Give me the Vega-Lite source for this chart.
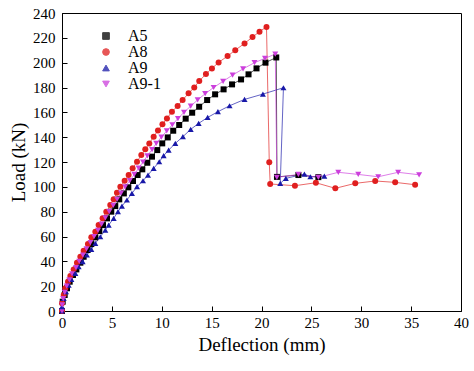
{
  "$schema": "https://vega.github.io/schema/vega-lite/v6.json",
  "width": 399,
  "height": 298,
  "autosize": {"type": "none"},
  "padding": {"left": 62, "top": 13, "right": 13, "bottom": 60},
  "background": "white",
  "config": {
    "view": {"stroke": "black", "strokeWidth": 1},
    "font": "Liberation Serif",
    "axis": {
      "labelFont": "Liberation Serif", "titleFont": "Liberation Serif",
      "labelColor": "black", "titleColor": "black", "domainColor": "black", "tickColor": "black",
      "grid": false, "titleFontWeight": "normal", "labelFontSize": 15, "titleFontSize": 19,
      "tickSize": -5, "labelFlush": false, "labelOverlap": false
    }
  },
  "data": {"values": [
    {"series":"A5","i":0,"deflection":0,"load":0},
    {"series":"A5","i":1,"deflection":0.07,"load":7.5},
    {"series":"A5","i":2,"deflection":0.27,"load":12.9},
    {"series":"A5","i":3,"deflection":0.5,"load":18.3},
    {"series":"A5","i":4,"deflection":0.77,"load":23.6},
    {"series":"A5","i":5,"deflection":1.1,"load":29},
    {"series":"A5","i":6,"deflection":1.44,"load":33.5},
    {"series":"A5","i":7,"deflection":1.84,"load":38.9},
    {"series":"A5","i":8,"deflection":2.17,"load":43.7},
    {"series":"A5","i":9,"deflection":2.57,"load":49.1},
    {"series":"A5","i":10,"deflection":2.94,"load":53.9},
    {"series":"A5","i":11,"deflection":3.34,"load":59.3},
    {"series":"A5","i":12,"deflection":3.74,"load":64.4},
    {"series":"A5","i":13,"deflection":4.11,"load":69.2},
    {"series":"A5","i":14,"deflection":4.51,"load":74.6},
    {"series":"A5","i":15,"deflection":4.94,"load":80},
    {"series":"A5","i":16,"deflection":5.34,"load":84.5},
    {"series":"A5","i":17,"deflection":5.74,"load":89.9},
    {"series":"A5","i":18,"deflection":6.2,"load":94.7},
    {"series":"A5","i":19,"deflection":6.65,"load":99.6},
    {"series":"A5","i":20,"deflection":7.12,"load":104.7},
    {"series":"A5","i":21,"deflection":7.58,"load":109.5},
    {"series":"A5","i":22,"deflection":8.05,"load":114.1},
    {"series":"A5","i":23,"deflection":8.55,"load":119.4},
    {"series":"A5","i":24,"deflection":9.02,"load":124.3},
    {"series":"A5","i":25,"deflection":9.55,"load":129.6},
    {"series":"A5","i":26,"deflection":10.05,"load":135},
    {"series":"A5","i":27,"deflection":10.6,"load":139.8},
    {"series":"A5","i":28,"deflection":11.15,"load":145.2},
    {"series":"A5","i":29,"deflection":11.75,"load":149.8},
    {"series":"A5","i":30,"deflection":12.4,"load":154.9},
    {"series":"A5","i":31,"deflection":13.05,"load":159.7},
    {"series":"A5","i":32,"deflection":13.75,"load":164.5},
    {"series":"A5","i":33,"deflection":14.55,"load":169.9},
    {"series":"A5","i":34,"deflection":15.35,"load":174.5},
    {"series":"A5","i":35,"deflection":16.2,"load":178.5},
    {"series":"A5","i":36,"deflection":17.05,"load":182.5},
    {"series":"A5","i":37,"deflection":17.95,"load":186.5},
    {"series":"A5","i":38,"deflection":18.7,"load":190.6},
    {"series":"A5","i":39,"deflection":19.5,"load":195.4},
    {"series":"A5","i":40,"deflection":20.4,"load":200},
    {"series":"A5","i":41,"deflection":21.48,"load":204.2},
    {"series":"A5","i":42,"deflection":21.55,"load":108},
    {"series":"A5","i":43,"deflection":23.7,"load":109.5},
    {"series":"A5","i":44,"deflection":25.7,"load":107.8},
    {"series":"A8","i":0,"deflection":0,"load":0},
    {"series":"A8","i":1,"deflection":0,"load":6.2},
    {"series":"A8","i":2,"deflection":0.17,"load":12.9},
    {"series":"A8","i":3,"deflection":0.33,"load":18.3},
    {"series":"A8","i":4,"deflection":0.6,"load":23.6},
    {"series":"A8","i":5,"deflection":0.84,"load":28.2},
    {"series":"A8","i":6,"deflection":1.17,"load":33.5},
    {"series":"A8","i":7,"deflection":1.5,"load":38.9},
    {"series":"A8","i":8,"deflection":1.84,"load":43.7},
    {"series":"A8","i":9,"deflection":2.17,"load":48.6},
    {"series":"A8","i":10,"deflection":2.6,"load":53.9},
    {"series":"A8","i":11,"deflection":2.94,"load":59.3},
    {"series":"A8","i":12,"deflection":3.34,"load":63.9},
    {"series":"A8","i":13,"deflection":3.67,"load":69.2},
    {"series":"A8","i":14,"deflection":4.07,"load":74.6},
    {"series":"A8","i":15,"deflection":4.44,"load":80},
    {"series":"A8","i":16,"deflection":4.84,"load":85.3},
    {"series":"A8","i":17,"deflection":5.18,"load":89.9},
    {"series":"A8","i":18,"deflection":5.51,"load":95.3},
    {"series":"A8","i":19,"deflection":5.85,"load":100.1},
    {"series":"A8","i":20,"deflection":6.28,"load":104.9},
    {"series":"A8","i":21,"deflection":6.68,"load":109.5},
    {"series":"A8","i":22,"deflection":7.08,"load":114.9},
    {"series":"A8","i":23,"deflection":7.52,"load":120.2},
    {"series":"A8","i":24,"deflection":7.95,"load":125.6},
    {"series":"A8","i":25,"deflection":8.35,"load":130.2},
    {"series":"A8","i":26,"deflection":8.75,"load":135},
    {"series":"A8","i":27,"deflection":9.19,"load":140.4},
    {"series":"A8","i":28,"deflection":9.62,"load":145.4},
    {"series":"A8","i":29,"deflection":10.07,"load":150.4},
    {"series":"A8","i":30,"deflection":10.52,"load":155.1},
    {"series":"A8","i":31,"deflection":11.02,"load":160.5},
    {"series":"A8","i":32,"deflection":11.59,"load":165.1},
    {"series":"A8","i":33,"deflection":12.09,"load":169.9},
    {"series":"A8","i":34,"deflection":12.69,"load":175.3},
    {"series":"A8","i":35,"deflection":13.26,"load":180.1},
    {"series":"A8","i":36,"deflection":13.76,"load":185.2},
    {"series":"A8","i":37,"deflection":14.43,"load":190.8},
    {"series":"A8","i":38,"deflection":15.03,"load":195.4},
    {"series":"A8","i":39,"deflection":15.7,"load":200.2},
    {"series":"A8","i":40,"deflection":16.6,"load":205.3},
    {"series":"A8","i":41,"deflection":17.37,"load":210.1},
    {"series":"A8","i":42,"deflection":18.3,"load":215.5},
    {"series":"A8","i":43,"deflection":19.1,"load":220.6},
    {"series":"A8","i":44,"deflection":19.8,"load":225},
    {"series":"A8","i":45,"deflection":20.5,"load":228.8},
    {"series":"A8","i":46,"deflection":20.78,"load":119.7},
    {"series":"A8","i":47,"deflection":20.87,"load":102.3},
    {"series":"A8","i":48,"deflection":23.35,"load":100.9},
    {"series":"A8","i":49,"deflection":25.45,"load":103.3},
    {"series":"A8","i":50,"deflection":27.4,"load":98.8},
    {"series":"A8","i":51,"deflection":29.4,"load":102.8},
    {"series":"A8","i":52,"deflection":31.4,"load":104.7},
    {"series":"A8","i":53,"deflection":33.4,"load":103.6},
    {"series":"A8","i":54,"deflection":35.4,"load":101.7},
    {"series":"A9","i":0,"deflection":0,"load":0},
    {"series":"A9","i":1,"deflection":0,"load":3.5},
    {"series":"A9","i":2,"deflection":0.17,"load":10.2},
    {"series":"A9","i":3,"deflection":0.4,"load":15.6},
    {"series":"A9","i":4,"deflection":0.67,"load":20.9},
    {"series":"A9","i":5,"deflection":0.94,"load":25.5},
    {"series":"A9","i":6,"deflection":1.34,"load":30.3},
    {"series":"A9","i":7,"deflection":1.67,"load":35.7},
    {"series":"A9","i":8,"deflection":2.07,"load":39.7},
    {"series":"A9","i":9,"deflection":2.5,"load":45.1},
    {"series":"A9","i":10,"deflection":2.94,"load":49.7},
    {"series":"A9","i":11,"deflection":3.34,"load":54.5},
    {"series":"A9","i":12,"deflection":3.84,"load":59.8},
    {"series":"A9","i":13,"deflection":4.34,"load":65.2},
    {"series":"A9","i":14,"deflection":4.68,"load":69.2},
    {"series":"A9","i":15,"deflection":5.18,"load":74.6},
    {"series":"A9","i":16,"deflection":5.61,"load":80},
    {"series":"A9","i":17,"deflection":6.01,"load":84.5},
    {"series":"A9","i":18,"deflection":6.51,"load":89.4},
    {"series":"A9","i":19,"deflection":7.01,"load":94.7},
    {"series":"A9","i":20,"deflection":7.52,"load":100.1},
    {"series":"A9","i":21,"deflection":8.12,"load":104.9},
    {"series":"A9","i":22,"deflection":8.62,"load":109.5},
    {"series":"A9","i":23,"deflection":9.19,"load":114.9},
    {"series":"A9","i":24,"deflection":9.75,"load":120.2},
    {"series":"A9","i":25,"deflection":10.19,"load":125.1},
    {"series":"A9","i":26,"deflection":10.69,"load":129.6},
    {"series":"A9","i":27,"deflection":11.36,"load":135},
    {"series":"A9","i":28,"deflection":12.12,"load":140.4},
    {"series":"A9","i":29,"deflection":12.9,"load":146.3},
    {"series":"A9","i":30,"deflection":13.7,"load":151.1},
    {"series":"A9","i":31,"deflection":14.6,"load":155.9},
    {"series":"A9","i":32,"deflection":15.63,"load":160.5},
    {"series":"A9","i":33,"deflection":16.8,"load":165.3},
    {"series":"A9","i":34,"deflection":18.3,"load":170.4},
    {"series":"A9","i":35,"deflection":20.14,"load":174.7},
    {"series":"A9","i":36,"deflection":22.2,"load":179.8},
    {"series":"A9","i":37,"deflection":21.88,"load":102.8},
    {"series":"A9","i":38,"deflection":22.44,"load":106.8},
    {"series":"A9","i":39,"deflection":24.3,"load":110.3},
    {"series":"A9","i":40,"deflection":24.9,"load":108.1},
    {"series":"A9","i":41,"deflection":26.3,"load":108.7},
    {"series":"A9-1","i":0,"deflection":0,"load":0},
    {"series":"A9-1","i":1,"deflection":0.02,"load":5},
    {"series":"A9-1","i":2,"deflection":0.12,"load":10},
    {"series":"A9-1","i":3,"deflection":0.27,"load":15},
    {"series":"A9-1","i":4,"deflection":0.47,"load":20},
    {"series":"A9-1","i":5,"deflection":0.74,"load":25},
    {"series":"A9-1","i":6,"deflection":1.0,"load":30},
    {"series":"A9-1","i":7,"deflection":1.4,"load":35},
    {"series":"A9-1","i":8,"deflection":1.73,"load":40},
    {"series":"A9-1","i":9,"deflection":2.1,"load":45},
    {"series":"A9-1","i":10,"deflection":2.46,"load":50},
    {"series":"A9-1","i":11,"deflection":2.85,"load":55},
    {"series":"A9-1","i":12,"deflection":3.22,"load":60},
    {"series":"A9-1","i":13,"deflection":3.61,"load":65},
    {"series":"A9-1","i":14,"deflection":3.97,"load":70},
    {"series":"A9-1","i":15,"deflection":4.35,"load":75},
    {"series":"A9-1","i":16,"deflection":4.74,"load":80},
    {"series":"A9-1","i":17,"deflection":5.14,"load":85},
    {"series":"A9-1","i":18,"deflection":5.53,"load":90},
    {"series":"A9-1","i":19,"deflection":5.92,"load":95},
    {"series":"A9-1","i":20,"deflection":6.33,"load":100},
    {"series":"A9-1","i":21,"deflection":6.8,"load":105},
    {"series":"A9-1","i":22,"deflection":7.25,"load":110},
    {"series":"A9-1","i":23,"deflection":7.68,"load":115},
    {"series":"A9-1","i":24,"deflection":8.12,"load":120},
    {"series":"A9-1","i":25,"deflection":8.56,"load":125},
    {"series":"A9-1","i":26,"deflection":9.03,"load":130},
    {"series":"A9-1","i":27,"deflection":9.45,"load":135},
    {"series":"A9-1","i":28,"deflection":9.96,"load":140},
    {"series":"A9-1","i":29,"deflection":10.5,"load":145},
    {"series":"A9-1","i":30,"deflection":11.06,"load":150},
    {"series":"A9-1","i":31,"deflection":11.62,"load":155},
    {"series":"A9-1","i":32,"deflection":12.23,"load":160},
    {"series":"A9-1","i":33,"deflection":12.9,"load":165},
    {"series":"A9-1","i":34,"deflection":13.6,"load":170},
    {"series":"A9-1","i":35,"deflection":14.35,"load":175},
    {"series":"A9-1","i":36,"deflection":15.2,"load":180},
    {"series":"A9-1","i":37,"deflection":16.15,"load":185},
    {"series":"A9-1","i":38,"deflection":17.1,"load":190},
    {"series":"A9-1","i":39,"deflection":18.15,"load":195},
    {"series":"A9-1","i":40,"deflection":19.3,"load":200},
    {"series":"A9-1","i":41,"deflection":20.35,"load":203.5},
    {"series":"A9-1","i":42,"deflection":21.38,"load":206.9},
    {"series":"A9-1","i":43,"deflection":21.54,"load":107.6},
    {"series":"A9-1","i":44,"deflection":23.7,"load":110},
    {"series":"A9-1","i":45,"deflection":25.7,"load":107.6},
    {"series":"A9-1","i":46,"deflection":27.7,"load":111.7},
    {"series":"A9-1","i":47,"deflection":29.7,"load":110},
    {"series":"A9-1","i":48,"deflection":31.7,"load":108.1},
    {"series":"A9-1","i":49,"deflection":33.7,"load":111.7},
    {"series":"A9-1","i":50,"deflection":35.8,"load":109.7}
  ]},
  "encoding": {
    "x": {"field": "deflection", "type": "quantitative",
      "scale": {"domain": [0, 40], "nice": false, "zero": false},
      "axis": {"title": "Deflection (mm)", "values": [0,5,10,15,20,25,30,35,40], "labelPadding": 9, "titlePadding": 5}},
    "y": {"field": "load", "type": "quantitative",
      "scale": {"domain": [0, 240], "nice": false},
      "axis": {"title": "Load (kN)", "values": [0,20,40,60,80,100,120,140,160,180,200,220,240], "labelPadding": 12, "titlePadding": 4}},
    "order": {"field": "i", "type": "quantitative"},
    "color": {"field": "series", "type": "nominal",
      "scale": {"domain": ["A5","A8","A9","A9-1"], "range": ["#000000","#e01f1f","#1818a8","#cc3fdc"]},
      "legend": {
        "orient": "none", "legendX": 36, "legendY": 15, "title": null, "padding": 0,
        "labelFont": "Liberation Serif", "labelFontSize": 16, "labelColor": "black",
        "labelOffset": 14, "rowPadding": 0, "symbolSize": 45, "symbolStrokeWidth": 1,
        "encode": {"symbols": {
          "size": {"value": 45},
          "strokeWidth": {"value": 1},
          "opacity": {"value": 1}
        }}
      }
    }
  },
  "layer": [
    {"mark": {"type": "line", "strokeWidth": 0.9, "opacity": 0.75}},
    {"mark": {"type": "point", "filled": true, "opacity": 1, "size": 36},
     "encoding": {"shape": {"field": "series", "type": "nominal",
       "scale": {"domain": ["A5","A8","A9","A9-1"], "range": ["square","circle","triangle-up","triangle-down"]},
       "legend": null}}
    }
  ]
}
